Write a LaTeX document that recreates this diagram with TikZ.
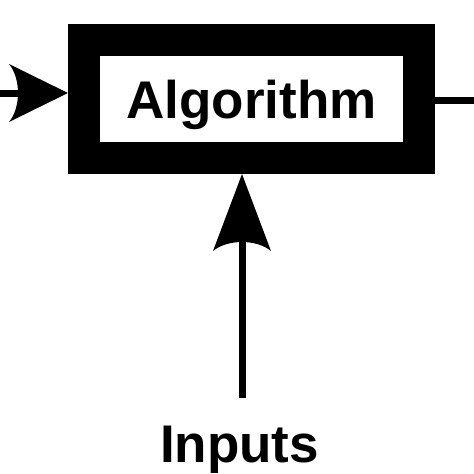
\documentclass[tikz,border=0pt]{standalone}
\usepackage{fontspec}
\setmainfont{Liberation Sans}
\usetikzlibrary{arrows.meta}
\makeatletter
\pgfdeclarearrow{
  name = CStealth,
  defaults = {length = 60pt, width = 58pt},
  parameters = {\the\pgfarrowlength,\the\pgfarrowwidth},
  setup code = {
    \pgfarrowssettipend{0pt}
    \pgfarrowssetbackend{-\pgfarrowlength}
    \pgfarrowssetlineend{-.8\pgfarrowlength}
    \pgfarrowssavethe\pgfarrowlength
    \pgfarrowssavethe\pgfarrowwidth
  },
  drawing code = {
    \pgfpathmoveto{\pgfqpoint{0pt}{0pt}}
    \pgfpathlineto{\pgfqpoint{-\pgfarrowlength}{.5\pgfarrowwidth}}
    \pgfpathcurveto{\pgfpoint{-\pgfarrowlength+12pt}{.25\pgfarrowwidth}}{\pgfpoint{-\pgfarrowlength+12pt}{-.25\pgfarrowwidth}}{\pgfqpoint{-\pgfarrowlength}{-.5\pgfarrowwidth}}
    \pgfpathclose
    \pgfusepathqfill
  }
}
\makeatother
\begin{document}
\begin{tikzpicture}[x=1pt,y=1pt,
  lbl/.style={font=\fontsize{53}{60}\selectfont\bfseries},
  frame/.style={draw=black, fill=white, line width=32pt, minimum width=335pt, minimum height=118pt, inner sep=0pt, text depth=0pt},
  conn/.style={line width=7pt, draw=black}]
\useasboundingbox (0,0) rectangle (474,-474);
\node[frame, lbl] (alg) at (251.5,-99) {Algorithm};
\coordinate (inl) at (0,-93);
\coordinate (outr) at (474,-100);
\coordinate (bot) at (242,-398);
\node[lbl, anchor=base, inner sep=0pt] (inp) at (239.5,-462) {Inputs};
\draw[conn, -{CStealth[length=59pt, width=58pt]}] (inl) -- (inl -| alg.west);
\draw[conn] (outr -| alg.east) -- (outr);
\draw[conn, -{CStealth[length=77pt, width=58pt]}] (bot) -- (bot |- alg.south);
\end{tikzpicture}
\end{document}
